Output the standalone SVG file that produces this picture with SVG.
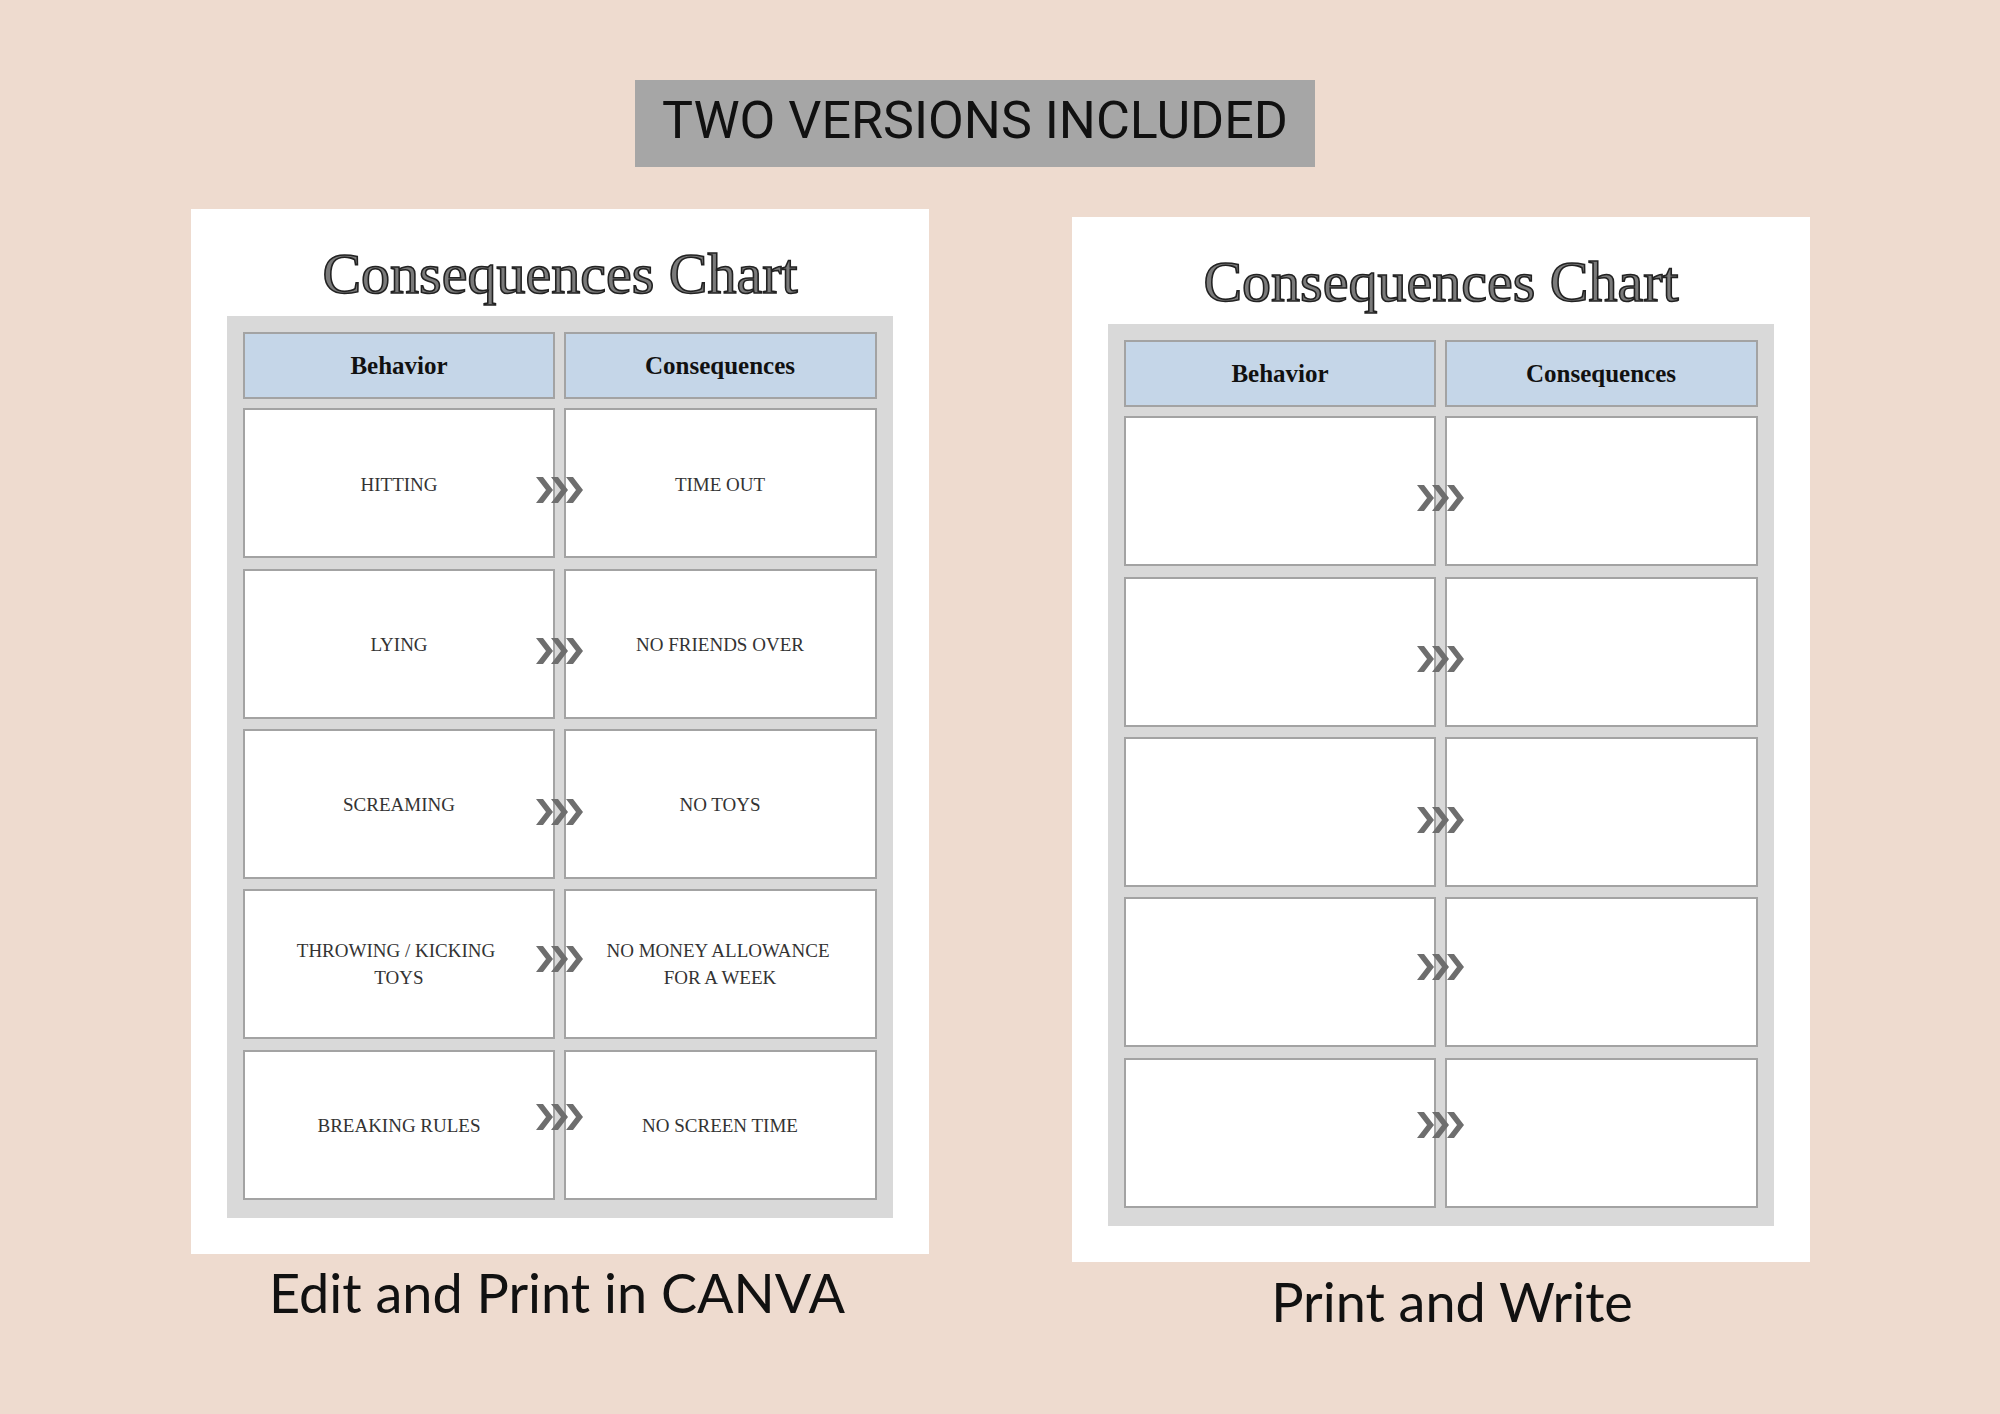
<svg xmlns="http://www.w3.org/2000/svg" xmlns:xlink="http://www.w3.org/1999/xlink" width="2000" height="1414" viewBox="0 0 2000 1414">
<style>
.page{fill:#fff}
.tbl{fill:#d9d9d9}
.hd{fill:#c5d6e8;stroke:#a3a3a3;stroke-width:2}
.cell{fill:#fff;stroke:#a3a3a3;stroke-width:2}
.title{font-family:"Liberation Serif",serif;font-size:58px;fill:#7a7a7a;stroke:#222;stroke-width:1.6;text-anchor:middle}
.ht{font-family:"Liberation Serif",serif;font-weight:bold;font-size:25px;fill:#111;text-anchor:middle}
.ct{font-family:"Liberation Serif",serif;font-size:19px;fill:#333;text-anchor:middle}
.cap{font-family:Lato,"Open Sans",sans-serif;font-size:54px;fill:#111;text-anchor:middle}
.chev{fill:#6e6e6e}
</style>
<defs>
<g id="arr">
<polygon class="chev" points="0,-13 7,-13 17,0 7,13 0,13 10,0"/>
<polygon class="chev" points="15,-13 22,-13 32,0 22,13 15,13 25,0"/>
<polygon class="chev" points="30,-13 37,-13 47,0 37,13 30,13 40,0"/>
</g>
<g id="chart">
<rect class="page" x="191" y="209" width="738" height="1045"/>
<text class="title" x="560" y="293">Consequences Chart</text>
<rect class="tbl" x="227" y="316" width="666" height="902"/>
<rect class="hd" x="244" y="333" width="310" height="65"/>
<rect class="hd" x="565" y="333" width="311" height="65"/>
<text class="ht" x="399" y="374">Behavior</text>
<text class="ht" x="720" y="374">Consequences</text>
<rect class="cell" x="244" y="409" width="310" height="148"/>
<rect class="cell" x="565" y="409" width="311" height="148"/>
<rect class="cell" x="244" y="570" width="310" height="148"/>
<rect class="cell" x="565" y="570" width="311" height="148"/>
<rect class="cell" x="244" y="730" width="310" height="148"/>
<rect class="cell" x="565" y="730" width="311" height="148"/>
<rect class="cell" x="244" y="890" width="310" height="148"/>
<rect class="cell" x="565" y="890" width="311" height="148"/>
<rect class="cell" x="244" y="1051" width="310" height="148"/>
<rect class="cell" x="565" y="1051" width="311" height="148"/>
</g>
</defs>
<rect width="2000" height="1414" fill="#eedbcf"/>
<g id="banner">
<rect x="635" y="80" width="680" height="87" fill="#a6a6a6"/>
<text x="975" y="138" font-family="Roboto,sans-serif" font-size="52" fill="#111" text-anchor="middle">TWO VERSIONS INCLUDED</text>
</g>
<g id="chart-left">
<use xlink:href="#chart"/>
<text class="ct" x="399" y="491">HITTING</text>
<text class="ct" x="720" y="491">TIME OUT</text>
<text class="ct" x="399" y="651">LYING</text>
<text class="ct" x="720" y="651">NO FRIENDS OVER</text>
<text class="ct" x="399" y="811">SCREAMING</text>
<text class="ct" x="720" y="811">NO TOYS</text>
<text class="ct" x="396" y="957">THROWING / KICKING</text>
<text class="ct" x="399" y="984">TOYS</text>
<text class="ct" x="718" y="957">NO MONEY ALLOWANCE</text>
<text class="ct" x="720" y="984">FOR A WEEK</text>
<text class="ct" x="399" y="1132">BREAKING RULES</text>
<text class="ct" x="720" y="1132">NO SCREEN TIME</text>
</g>
<g id="chart-right" transform="translate(881,8)">
<use xlink:href="#chart"/>
</g>
<g id="connectors">
<use xlink:href="#arr" x="536" y="490"/>
<use xlink:href="#arr" x="536" y="651"/>
<use xlink:href="#arr" x="536" y="812"/>
<use xlink:href="#arr" x="536" y="959"/>
<use xlink:href="#arr" x="536" y="1117"/>
<use xlink:href="#arr" x="1417" y="498"/>
<use xlink:href="#arr" x="1417" y="659"/>
<use xlink:href="#arr" x="1417" y="820"/>
<use xlink:href="#arr" x="1417" y="967"/>
<use xlink:href="#arr" x="1417" y="1125"/>
</g>
<text class="cap" x="557" y="1313">Edit and Print in CANVA</text>
<text class="cap" x="1452" y="1322">Print and Write</text>
</svg>
